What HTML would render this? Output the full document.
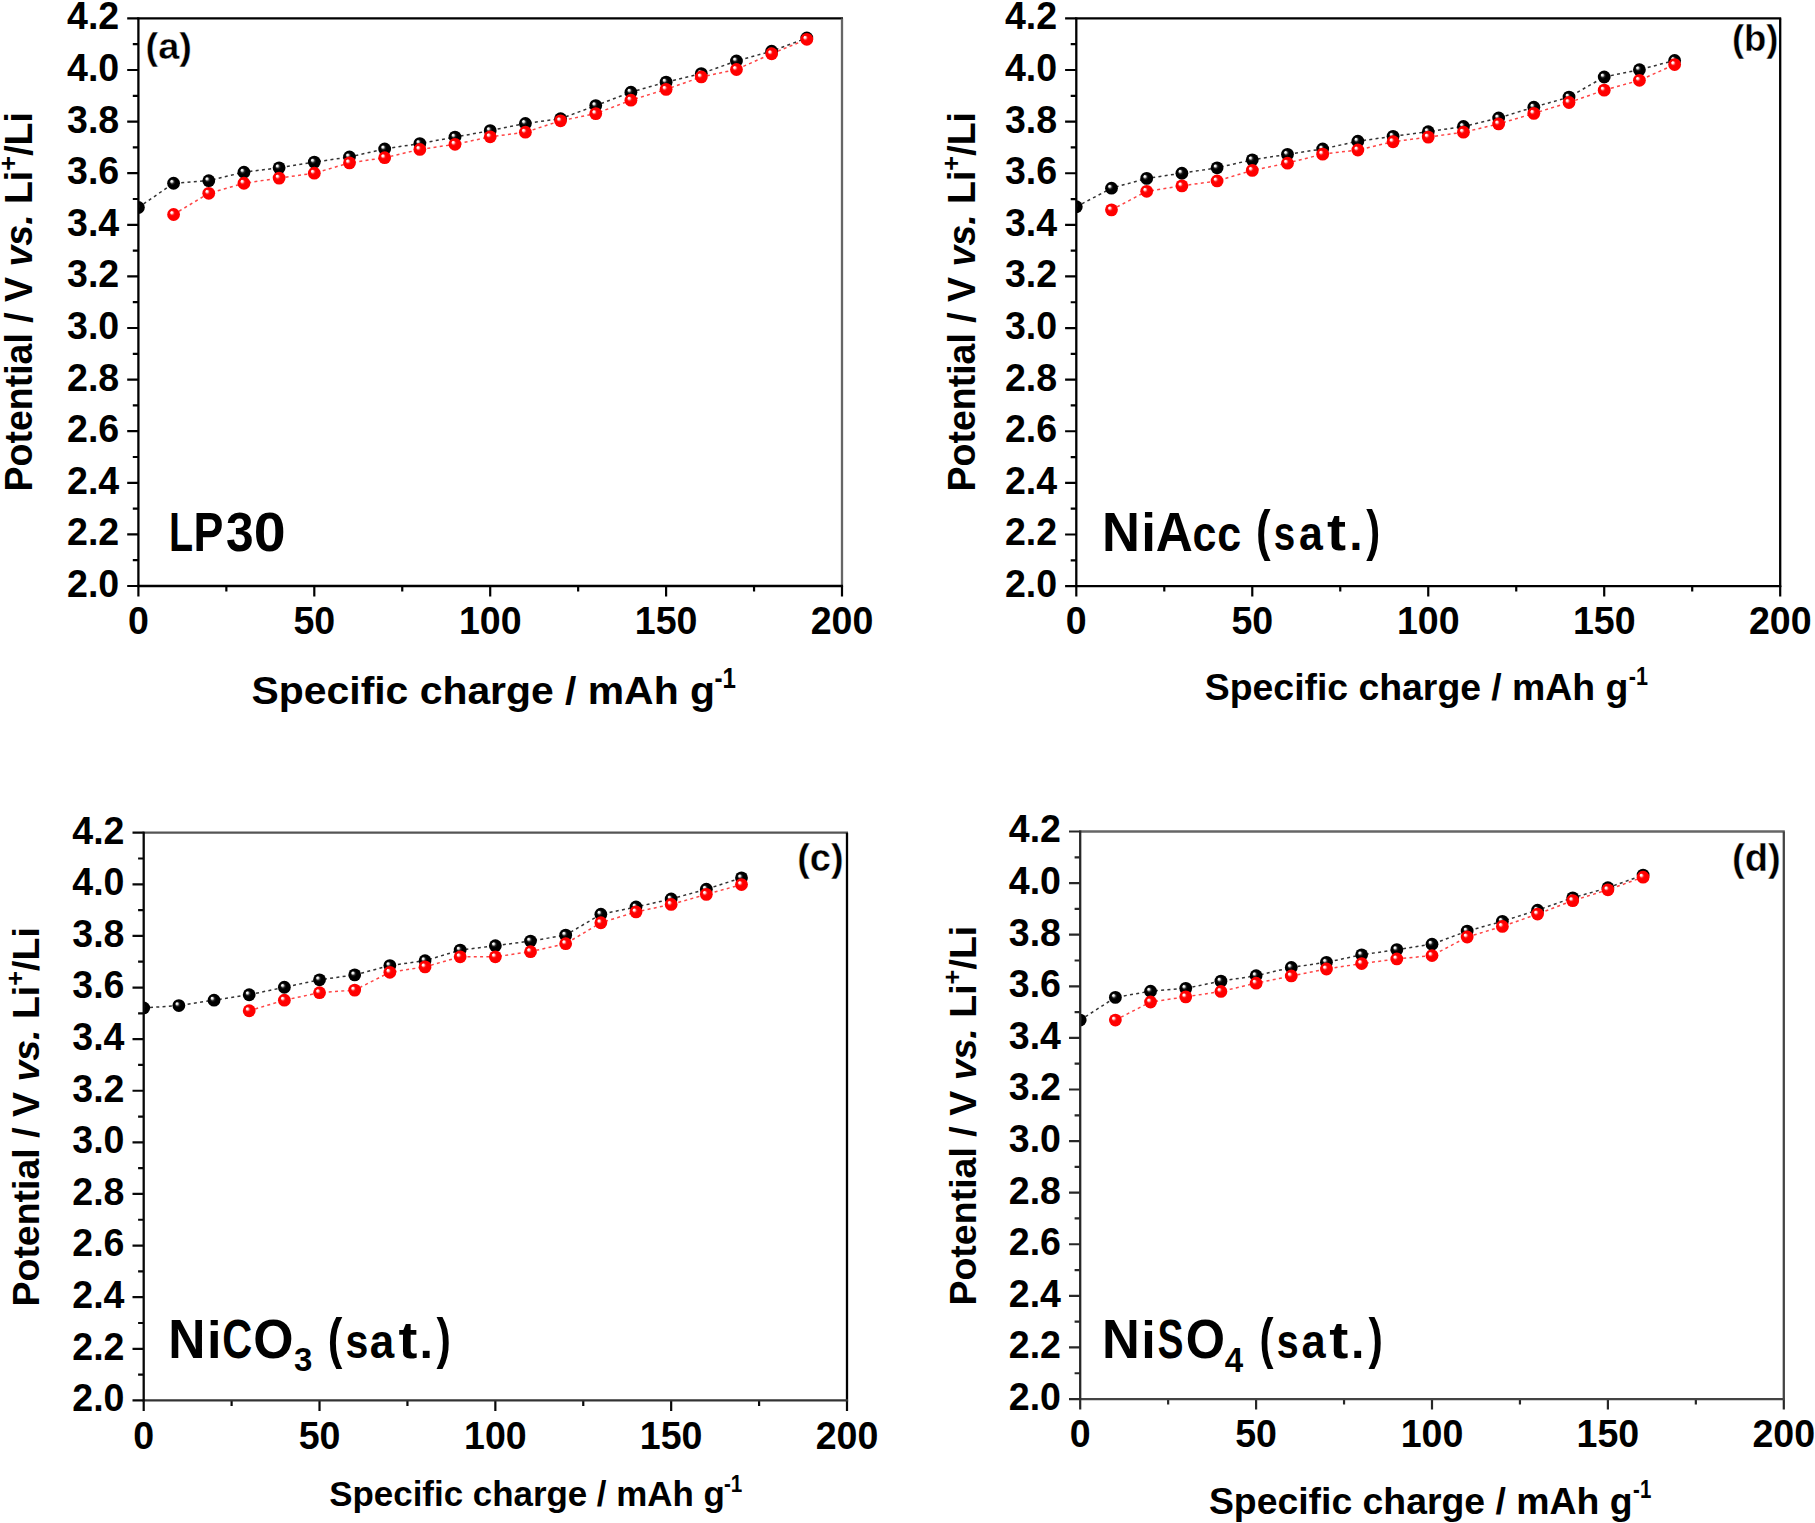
<!DOCTYPE html>
<html><head><meta charset="utf-8"><title>Potential vs specific charge</title>
<style>html,body{margin:0;padding:0;background:#fff;overflow:hidden}svg{display:block}text{font-family:"Liberation Sans",Arial,sans-serif;font-weight:bold;fill:#000}</style>
</head><body>
<svg width="1815" height="1523" viewBox="0 0 1815 1523">
<rect width="1815" height="1523" fill="#fff"/>
<defs>
<radialGradient id="gk" cx="0.5" cy="0.5" r="0.5" fx="0.32" fy="0.32"><stop offset="0" stop-color="#fff"/><stop offset="0.14" stop-color="#eee"/><stop offset="0.34" stop-color="#222"/><stop offset="0.5" stop-color="#000"/><stop offset="1" stop-color="#000"/></radialGradient>
<radialGradient id="gr" cx="0.5" cy="0.5" r="0.5" fx="0.32" fy="0.32"><stop offset="0" stop-color="#fff"/><stop offset="0.14" stop-color="#fee"/><stop offset="0.36" stop-color="#ff1010"/><stop offset="0.5" stop-color="#f00"/><stop offset="1" stop-color="#f00"/></radialGradient>
<clipPath id="clipa"><rect x="138.4" y="8.4" width="713.6" height="577.6"/></clipPath>
<clipPath id="clipb"><rect x="1076.3" y="8.4" width="713.9" height="577.7"/></clipPath>
<clipPath id="clipc"><rect x="143.7" y="822.7" width="713.3" height="577.7"/></clipPath>
<clipPath id="clipd"><rect x="1080.2" y="821.5" width="713.6" height="577.55"/></clipPath>
</defs>
<g id="panel-a">
<g clip-path="url(#clipa)">
<polyline fill="none" stroke="#333" stroke-width="1.5" stroke-dasharray="3 3.3" points="138.4,207.51 173.58,183.26 208.76,180.68 243.94,172.17 279.12,167.78 314.3,162.11 349.48,156.95 384.66,148.95 419.84,143.53 455.02,137.08 490.2,130.63 525.38,123.41 560.56,118.76 595.74,105.6 630.92,92.19 666.1,82.13 701.28,73.61 736.46,60.97 771.64,51.17 806.82,38.01"/>
<circle cx="138.4" cy="207.51" r="6.4" fill="url(#gk)"/>
<circle cx="173.58" cy="183.26" r="6.4" fill="url(#gk)"/>
<circle cx="208.76" cy="180.68" r="6.4" fill="url(#gk)"/>
<circle cx="243.94" cy="172.17" r="6.4" fill="url(#gk)"/>
<circle cx="279.12" cy="167.78" r="6.4" fill="url(#gk)"/>
<circle cx="314.3" cy="162.11" r="6.4" fill="url(#gk)"/>
<circle cx="349.48" cy="156.95" r="6.4" fill="url(#gk)"/>
<circle cx="384.66" cy="148.95" r="6.4" fill="url(#gk)"/>
<circle cx="419.84" cy="143.53" r="6.4" fill="url(#gk)"/>
<circle cx="455.02" cy="137.08" r="6.4" fill="url(#gk)"/>
<circle cx="490.2" cy="130.63" r="6.4" fill="url(#gk)"/>
<circle cx="525.38" cy="123.41" r="6.4" fill="url(#gk)"/>
<circle cx="560.56" cy="118.76" r="6.4" fill="url(#gk)"/>
<circle cx="595.74" cy="105.6" r="6.4" fill="url(#gk)"/>
<circle cx="630.92" cy="92.19" r="6.4" fill="url(#gk)"/>
<circle cx="666.1" cy="82.13" r="6.4" fill="url(#gk)"/>
<circle cx="701.28" cy="73.61" r="6.4" fill="url(#gk)"/>
<circle cx="736.46" cy="60.97" r="6.4" fill="url(#gk)"/>
<circle cx="771.64" cy="51.17" r="6.4" fill="url(#gk)"/>
<circle cx="806.82" cy="38.01" r="6.4" fill="url(#gk)"/>
<polyline fill="none" stroke="#f44" stroke-width="1.5" stroke-dasharray="3 3.3" points="173.58,214.48 208.76,193.32 243.94,183.26 279.12,178.1 314.3,173.2 349.48,162.88 384.66,157.72 419.84,149.46 455.02,144.3 490.2,136.82 525.38,132.18 560.56,120.83 595.74,113.6 630.92,100.19 666.1,89.35 701.28,76.97 736.46,69.48 771.64,53.75 806.82,39.3"/>
<circle cx="173.58" cy="214.48" r="6.4" fill="url(#gr)"/>
<circle cx="208.76" cy="193.32" r="6.4" fill="url(#gr)"/>
<circle cx="243.94" cy="183.26" r="6.4" fill="url(#gr)"/>
<circle cx="279.12" cy="178.1" r="6.4" fill="url(#gr)"/>
<circle cx="314.3" cy="173.2" r="6.4" fill="url(#gr)"/>
<circle cx="349.48" cy="162.88" r="6.4" fill="url(#gr)"/>
<circle cx="384.66" cy="157.72" r="6.4" fill="url(#gr)"/>
<circle cx="419.84" cy="149.46" r="6.4" fill="url(#gr)"/>
<circle cx="455.02" cy="144.3" r="6.4" fill="url(#gr)"/>
<circle cx="490.2" cy="136.82" r="6.4" fill="url(#gr)"/>
<circle cx="525.38" cy="132.18" r="6.4" fill="url(#gr)"/>
<circle cx="560.56" cy="120.83" r="6.4" fill="url(#gr)"/>
<circle cx="595.74" cy="113.6" r="6.4" fill="url(#gr)"/>
<circle cx="630.92" cy="100.19" r="6.4" fill="url(#gr)"/>
<circle cx="666.1" cy="89.35" r="6.4" fill="url(#gr)"/>
<circle cx="701.28" cy="76.97" r="6.4" fill="url(#gr)"/>
<circle cx="736.46" cy="69.48" r="6.4" fill="url(#gr)"/>
<circle cx="771.64" cy="53.75" r="6.4" fill="url(#gr)"/>
<circle cx="806.82" cy="39.3" r="6.4" fill="url(#gr)"/>
</g>
<path d="M127.2 586H138.4M132.8 560.2H138.4M127.2 534.4H138.4M132.8 508.6H138.4M127.2 482.8H138.4M132.8 457H138.4M127.2 431.2H138.4M132.8 405.4H138.4M127.2 379.6H138.4M132.8 353.8H138.4M127.2 328H138.4M132.8 302.2H138.4M127.2 276.4H138.4M132.8 250.6H138.4M127.2 224.8H138.4M132.8 199H138.4M127.2 173.2H138.4M132.8 147.4H138.4M127.2 121.6H138.4M132.8 95.8H138.4M127.2 70H138.4M132.8 44.2H138.4M127.2 18.4H138.4M138.4 586V596.5M226.35 586V591.5M314.3 586V596.5M402.25 586V591.5M490.2 586V596.5M578.15 586V591.5M666.1 586V596.5M754.05 586V591.5M842 586V596.5" stroke="#000" stroke-width="2.2" fill="none"/>
<path d="M137.4 18.4H843" stroke="#000" stroke-width="2.3" fill="none"/>
<path d="M842 18.4V587" stroke="#666" stroke-width="2.3" fill="none"/>
<path d="M137.4 586H843" stroke="#000" stroke-width="2.3" fill="none"/>
<path d="M138.4 17.4V587" stroke="#000" stroke-width="2.3" fill="none"/>
<text transform="translate(119.2 596.9) scale(0.965 1)" font-size="38.9" text-anchor="end">2.0</text>
<text transform="translate(119.2 545.3) scale(0.965 1)" font-size="38.9" text-anchor="end">2.2</text>
<text transform="translate(119.2 493.7) scale(0.965 1)" font-size="38.9" text-anchor="end">2.4</text>
<text transform="translate(119.2 442.1) scale(0.965 1)" font-size="38.9" text-anchor="end">2.6</text>
<text transform="translate(119.2 390.5) scale(0.965 1)" font-size="38.9" text-anchor="end">2.8</text>
<text transform="translate(119.2 338.9) scale(0.965 1)" font-size="38.9" text-anchor="end">3.0</text>
<text transform="translate(119.2 287.3) scale(0.965 1)" font-size="38.9" text-anchor="end">3.2</text>
<text transform="translate(119.2 235.7) scale(0.965 1)" font-size="38.9" text-anchor="end">3.4</text>
<text transform="translate(119.2 184.1) scale(0.965 1)" font-size="38.9" text-anchor="end">3.6</text>
<text transform="translate(119.2 132.5) scale(0.965 1)" font-size="38.9" text-anchor="end">3.8</text>
<text transform="translate(119.2 80.9) scale(0.965 1)" font-size="38.9" text-anchor="end">4.0</text>
<text transform="translate(119.2 29.3) scale(0.965 1)" font-size="38.9" text-anchor="end">4.2</text>
<text transform="translate(138.4 634.2) scale(0.965 1)" font-size="38.9" text-anchor="middle">0</text>
<text transform="translate(314.3 634.2) scale(0.965 1)" font-size="38.9" text-anchor="middle">50</text>
<text transform="translate(490.2 634.2) scale(0.965 1)" font-size="38.9" text-anchor="middle">100</text>
<text transform="translate(666.1 634.2) scale(0.965 1)" font-size="38.9" text-anchor="middle">150</text>
<text transform="translate(842 634.2) scale(0.965 1)" font-size="38.9" text-anchor="middle">200</text>
</g>
<g id="panel-b">
<g clip-path="url(#clipb)">
<polyline fill="none" stroke="#333" stroke-width="1.5" stroke-dasharray="3 3.3" points="1076.3,206.77 1111.49,188.19 1146.69,178.39 1181.88,173.23 1217.08,167.81 1252.28,159.81 1287.47,154.39 1322.66,148.97 1357.86,141.23 1393.06,136.33 1428.25,131.68 1463.45,126.52 1498.64,118.01 1533.84,107.17 1569.03,97.1 1604.22,76.98 1639.42,69.75 1674.62,60.46"/>
<circle cx="1076.3" cy="206.77" r="6.4" fill="url(#gk)"/>
<circle cx="1111.49" cy="188.19" r="6.4" fill="url(#gk)"/>
<circle cx="1146.69" cy="178.39" r="6.4" fill="url(#gk)"/>
<circle cx="1181.88" cy="173.23" r="6.4" fill="url(#gk)"/>
<circle cx="1217.08" cy="167.81" r="6.4" fill="url(#gk)"/>
<circle cx="1252.28" cy="159.81" r="6.4" fill="url(#gk)"/>
<circle cx="1287.47" cy="154.39" r="6.4" fill="url(#gk)"/>
<circle cx="1322.66" cy="148.97" r="6.4" fill="url(#gk)"/>
<circle cx="1357.86" cy="141.23" r="6.4" fill="url(#gk)"/>
<circle cx="1393.06" cy="136.33" r="6.4" fill="url(#gk)"/>
<circle cx="1428.25" cy="131.68" r="6.4" fill="url(#gk)"/>
<circle cx="1463.45" cy="126.52" r="6.4" fill="url(#gk)"/>
<circle cx="1498.64" cy="118.01" r="6.4" fill="url(#gk)"/>
<circle cx="1533.84" cy="107.17" r="6.4" fill="url(#gk)"/>
<circle cx="1569.03" cy="97.1" r="6.4" fill="url(#gk)"/>
<circle cx="1604.22" cy="76.98" r="6.4" fill="url(#gk)"/>
<circle cx="1639.42" cy="69.75" r="6.4" fill="url(#gk)"/>
<circle cx="1674.62" cy="60.46" r="6.4" fill="url(#gk)"/>
<polyline fill="none" stroke="#f44" stroke-width="1.5" stroke-dasharray="3 3.3" points="1111.49,209.87 1146.69,191.29 1181.88,185.87 1217.08,180.97 1252.28,170.39 1287.47,163.16 1322.66,154.13 1357.86,150 1393.06,141.75 1428.25,137.1 1463.45,132.2 1498.64,123.94 1533.84,113.36 1569.03,102.52 1604.22,90.14 1639.42,80.33 1674.62,64.59"/>
<circle cx="1111.49" cy="209.87" r="6.4" fill="url(#gr)"/>
<circle cx="1146.69" cy="191.29" r="6.4" fill="url(#gr)"/>
<circle cx="1181.88" cy="185.87" r="6.4" fill="url(#gr)"/>
<circle cx="1217.08" cy="180.97" r="6.4" fill="url(#gr)"/>
<circle cx="1252.28" cy="170.39" r="6.4" fill="url(#gr)"/>
<circle cx="1287.47" cy="163.16" r="6.4" fill="url(#gr)"/>
<circle cx="1322.66" cy="154.13" r="6.4" fill="url(#gr)"/>
<circle cx="1357.86" cy="150" r="6.4" fill="url(#gr)"/>
<circle cx="1393.06" cy="141.75" r="6.4" fill="url(#gr)"/>
<circle cx="1428.25" cy="137.1" r="6.4" fill="url(#gr)"/>
<circle cx="1463.45" cy="132.2" r="6.4" fill="url(#gr)"/>
<circle cx="1498.64" cy="123.94" r="6.4" fill="url(#gr)"/>
<circle cx="1533.84" cy="113.36" r="6.4" fill="url(#gr)"/>
<circle cx="1569.03" cy="102.52" r="6.4" fill="url(#gr)"/>
<circle cx="1604.22" cy="90.14" r="6.4" fill="url(#gr)"/>
<circle cx="1639.42" cy="80.33" r="6.4" fill="url(#gr)"/>
<circle cx="1674.62" cy="64.59" r="6.4" fill="url(#gr)"/>
</g>
<path d="M1065.1 586.1H1076.3M1070.7 560.3H1076.3M1065.1 534.49H1076.3M1070.7 508.69H1076.3M1065.1 482.88H1076.3M1070.7 457.08H1076.3M1065.1 431.27H1076.3M1070.7 405.47H1076.3M1065.1 379.66H1076.3M1070.7 353.86H1076.3M1065.1 328.05H1076.3M1070.7 302.25H1076.3M1065.1 276.45H1076.3M1070.7 250.64H1076.3M1065.1 224.84H1076.3M1070.7 199.03H1076.3M1065.1 173.23H1076.3M1070.7 147.42H1076.3M1065.1 121.62H1076.3M1070.7 95.81H1076.3M1065.1 70.01H1076.3M1070.7 44.2H1076.3M1065.1 18.4H1076.3M1076.3 586.1V596.6M1164.29 586.1V591.6M1252.28 586.1V596.6M1340.26 586.1V591.6M1428.25 586.1V596.6M1516.24 586.1V591.6M1604.22 586.1V596.6M1692.21 586.1V591.6M1780.2 586.1V596.6" stroke="#000" stroke-width="2.2" fill="none"/>
<path d="M1075.3 18.4H1781.2" stroke="#000" stroke-width="2.3" fill="none"/>
<path d="M1780.2 18.4V587.1" stroke="#000" stroke-width="2.3" fill="none"/>
<path d="M1075.3 586.1H1781.2" stroke="#000" stroke-width="2.3" fill="none"/>
<path d="M1076.3 17.4V587.1" stroke="#000" stroke-width="2.3" fill="none"/>
<text transform="translate(1057.1 597) scale(0.965 1)" font-size="38.9" text-anchor="end">2.0</text>
<text transform="translate(1057.1 545.39) scale(0.965 1)" font-size="38.9" text-anchor="end">2.2</text>
<text transform="translate(1057.1 493.78) scale(0.965 1)" font-size="38.9" text-anchor="end">2.4</text>
<text transform="translate(1057.1 442.17) scale(0.965 1)" font-size="38.9" text-anchor="end">2.6</text>
<text transform="translate(1057.1 390.56) scale(0.965 1)" font-size="38.9" text-anchor="end">2.8</text>
<text transform="translate(1057.1 338.95) scale(0.965 1)" font-size="38.9" text-anchor="end">3.0</text>
<text transform="translate(1057.1 287.35) scale(0.965 1)" font-size="38.9" text-anchor="end">3.2</text>
<text transform="translate(1057.1 235.74) scale(0.965 1)" font-size="38.9" text-anchor="end">3.4</text>
<text transform="translate(1057.1 184.13) scale(0.965 1)" font-size="38.9" text-anchor="end">3.6</text>
<text transform="translate(1057.1 132.52) scale(0.965 1)" font-size="38.9" text-anchor="end">3.8</text>
<text transform="translate(1057.1 80.91) scale(0.965 1)" font-size="38.9" text-anchor="end">4.0</text>
<text transform="translate(1057.1 29.3) scale(0.965 1)" font-size="38.9" text-anchor="end">4.2</text>
<text transform="translate(1076.3 634.3) scale(0.965 1)" font-size="38.9" text-anchor="middle">0</text>
<text transform="translate(1252.28 634.3) scale(0.965 1)" font-size="38.9" text-anchor="middle">50</text>
<text transform="translate(1428.25 634.3) scale(0.965 1)" font-size="38.9" text-anchor="middle">100</text>
<text transform="translate(1604.22 634.3) scale(0.965 1)" font-size="38.9" text-anchor="middle">150</text>
<text transform="translate(1780.2 634.3) scale(0.965 1)" font-size="38.9" text-anchor="middle">200</text>
</g>
<g id="panel-c">
<g clip-path="url(#clipc)">
<polyline fill="none" stroke="#333" stroke-width="1.5" stroke-dasharray="3 3.3" points="143.7,1007.91 178.86,1005.59 214.03,1000.17 249.19,994.75 284.36,987.27 319.52,979.79 354.69,974.88 389.86,965.59 425.02,960.69 460.18,950.11 495.35,945.72 530.51,941.08 565.68,935.14 600.85,914.24 636.01,907.02 671.17,899.02 706.34,889.21 741.5,877.86"/>
<circle cx="143.7" cy="1007.91" r="6.4" fill="url(#gk)"/>
<circle cx="178.86" cy="1005.59" r="6.4" fill="url(#gk)"/>
<circle cx="214.03" cy="1000.17" r="6.4" fill="url(#gk)"/>
<circle cx="249.19" cy="994.75" r="6.4" fill="url(#gk)"/>
<circle cx="284.36" cy="987.27" r="6.4" fill="url(#gk)"/>
<circle cx="319.52" cy="979.79" r="6.4" fill="url(#gk)"/>
<circle cx="354.69" cy="974.88" r="6.4" fill="url(#gk)"/>
<circle cx="389.86" cy="965.59" r="6.4" fill="url(#gk)"/>
<circle cx="425.02" cy="960.69" r="6.4" fill="url(#gk)"/>
<circle cx="460.18" cy="950.11" r="6.4" fill="url(#gk)"/>
<circle cx="495.35" cy="945.72" r="6.4" fill="url(#gk)"/>
<circle cx="530.51" cy="941.08" r="6.4" fill="url(#gk)"/>
<circle cx="565.68" cy="935.14" r="6.4" fill="url(#gk)"/>
<circle cx="600.85" cy="914.24" r="6.4" fill="url(#gk)"/>
<circle cx="636.01" cy="907.02" r="6.4" fill="url(#gk)"/>
<circle cx="671.17" cy="899.02" r="6.4" fill="url(#gk)"/>
<circle cx="706.34" cy="889.21" r="6.4" fill="url(#gk)"/>
<circle cx="741.5" cy="877.86" r="6.4" fill="url(#gk)"/>
<polyline fill="none" stroke="#f44" stroke-width="1.5" stroke-dasharray="3 3.3" points="249.19,1010.75 284.36,1000.17 319.52,992.69 354.69,990.11 389.86,972.3 425.02,966.88 460.18,956.82 495.35,956.82 530.51,951.66 565.68,943.66 600.85,922.76 636.01,911.92 671.17,904.44 706.34,894.37 741.5,884.57"/>
<circle cx="249.19" cy="1010.75" r="6.4" fill="url(#gr)"/>
<circle cx="284.36" cy="1000.17" r="6.4" fill="url(#gr)"/>
<circle cx="319.52" cy="992.69" r="6.4" fill="url(#gr)"/>
<circle cx="354.69" cy="990.11" r="6.4" fill="url(#gr)"/>
<circle cx="389.86" cy="972.3" r="6.4" fill="url(#gr)"/>
<circle cx="425.02" cy="966.88" r="6.4" fill="url(#gr)"/>
<circle cx="460.18" cy="956.82" r="6.4" fill="url(#gr)"/>
<circle cx="495.35" cy="956.82" r="6.4" fill="url(#gr)"/>
<circle cx="530.51" cy="951.66" r="6.4" fill="url(#gr)"/>
<circle cx="565.68" cy="943.66" r="6.4" fill="url(#gr)"/>
<circle cx="600.85" cy="922.76" r="6.4" fill="url(#gr)"/>
<circle cx="636.01" cy="911.92" r="6.4" fill="url(#gr)"/>
<circle cx="671.17" cy="904.44" r="6.4" fill="url(#gr)"/>
<circle cx="706.34" cy="894.37" r="6.4" fill="url(#gr)"/>
<circle cx="741.5" cy="884.57" r="6.4" fill="url(#gr)"/>
</g>
<path d="M132.5 1400.4H143.7M138.1 1374.6H143.7M132.5 1348.79H143.7M138.1 1322.99H143.7M132.5 1297.18H143.7M138.1 1271.38H143.7M132.5 1245.57H143.7M138.1 1219.77H143.7M132.5 1193.96H143.7M138.1 1168.16H143.7M132.5 1142.35H143.7M138.1 1116.55H143.7M132.5 1090.75H143.7M138.1 1064.94H143.7M132.5 1039.14H143.7M138.1 1013.33H143.7M132.5 987.53H143.7M138.1 961.72H143.7M132.5 935.92H143.7M138.1 910.11H143.7M132.5 884.31H143.7M138.1 858.5H143.7M132.5 832.7H143.7M143.7 1400.4V1410.9M231.61 1400.4V1405.9M319.52 1400.4V1410.9M407.44 1400.4V1405.9M495.35 1400.4V1410.9M583.26 1400.4V1405.9M671.17 1400.4V1410.9M759.09 1400.4V1405.9M847 1400.4V1410.9" stroke="#080808" stroke-width="2.2" fill="none"/>
<path d="M142.7 832.7H848" stroke="#555" stroke-width="2.3" fill="none"/>
<path d="M847 832.7V1401.4" stroke="#000" stroke-width="2.3" fill="none"/>
<path d="M142.7 1400.4H848" stroke="#333" stroke-width="2.3" fill="none"/>
<path d="M143.7 831.7V1401.4" stroke="#080808" stroke-width="2.3" fill="none"/>
<text transform="translate(124.5 1411.3) scale(0.965 1)" font-size="38.9" text-anchor="end">2.0</text>
<text transform="translate(124.5 1359.69) scale(0.965 1)" font-size="38.9" text-anchor="end">2.2</text>
<text transform="translate(124.5 1308.08) scale(0.965 1)" font-size="38.9" text-anchor="end">2.4</text>
<text transform="translate(124.5 1256.47) scale(0.965 1)" font-size="38.9" text-anchor="end">2.6</text>
<text transform="translate(124.5 1204.86) scale(0.965 1)" font-size="38.9" text-anchor="end">2.8</text>
<text transform="translate(124.5 1153.25) scale(0.965 1)" font-size="38.9" text-anchor="end">3.0</text>
<text transform="translate(124.5 1101.65) scale(0.965 1)" font-size="38.9" text-anchor="end">3.2</text>
<text transform="translate(124.5 1050.04) scale(0.965 1)" font-size="38.9" text-anchor="end">3.4</text>
<text transform="translate(124.5 998.43) scale(0.965 1)" font-size="38.9" text-anchor="end">3.6</text>
<text transform="translate(124.5 946.82) scale(0.965 1)" font-size="38.9" text-anchor="end">3.8</text>
<text transform="translate(124.5 895.21) scale(0.965 1)" font-size="38.9" text-anchor="end">4.0</text>
<text transform="translate(124.5 843.6) scale(0.965 1)" font-size="38.9" text-anchor="end">4.2</text>
<text transform="translate(143.7 1448.6) scale(0.965 1)" font-size="38.9" text-anchor="middle">0</text>
<text transform="translate(319.52 1448.6) scale(0.965 1)" font-size="38.9" text-anchor="middle">50</text>
<text transform="translate(495.35 1448.6) scale(0.965 1)" font-size="38.9" text-anchor="middle">100</text>
<text transform="translate(671.17 1448.6) scale(0.965 1)" font-size="38.9" text-anchor="middle">150</text>
<text transform="translate(847 1448.6) scale(0.965 1)" font-size="38.9" text-anchor="middle">200</text>
</g>
<g id="panel-d">
<g clip-path="url(#clipd)">
<polyline fill="none" stroke="#333" stroke-width="1.5" stroke-dasharray="3 3.3" points="1080.2,1020.08 1115.38,997.38 1150.56,991.19 1185.74,988.35 1220.92,981.13 1256.1,975.71 1291.28,967.45 1326.46,962.29 1361.64,954.81 1396.82,949.65 1432,944.24 1467.18,931.08 1502.36,921.28 1537.54,910.18 1572.72,897.8 1607.9,887.74 1643.08,875.1"/>
<circle cx="1080.2" cy="1020.08" r="6.4" fill="url(#gk)"/>
<circle cx="1115.38" cy="997.38" r="6.4" fill="url(#gk)"/>
<circle cx="1150.56" cy="991.19" r="6.4" fill="url(#gk)"/>
<circle cx="1185.74" cy="988.35" r="6.4" fill="url(#gk)"/>
<circle cx="1220.92" cy="981.13" r="6.4" fill="url(#gk)"/>
<circle cx="1256.1" cy="975.71" r="6.4" fill="url(#gk)"/>
<circle cx="1291.28" cy="967.45" r="6.4" fill="url(#gk)"/>
<circle cx="1326.46" cy="962.29" r="6.4" fill="url(#gk)"/>
<circle cx="1361.64" cy="954.81" r="6.4" fill="url(#gk)"/>
<circle cx="1396.82" cy="949.65" r="6.4" fill="url(#gk)"/>
<circle cx="1432" cy="944.24" r="6.4" fill="url(#gk)"/>
<circle cx="1467.18" cy="931.08" r="6.4" fill="url(#gk)"/>
<circle cx="1502.36" cy="921.28" r="6.4" fill="url(#gk)"/>
<circle cx="1537.54" cy="910.18" r="6.4" fill="url(#gk)"/>
<circle cx="1572.72" cy="897.8" r="6.4" fill="url(#gk)"/>
<circle cx="1607.9" cy="887.74" r="6.4" fill="url(#gk)"/>
<circle cx="1643.08" cy="875.1" r="6.4" fill="url(#gk)"/>
<polyline fill="none" stroke="#f44" stroke-width="1.5" stroke-dasharray="3 3.3" points="1115.38,1020.08 1150.56,1002.02 1185.74,996.86 1220.92,991.45 1256.1,983.19 1291.28,975.97 1326.46,969 1361.64,963.58 1396.82,958.94 1432,955.59 1467.18,937.01 1502.36,926.44 1537.54,914.05 1572.72,900.64 1607.9,889.8 1643.08,877.16"/>
<circle cx="1115.38" cy="1020.08" r="6.4" fill="url(#gr)"/>
<circle cx="1150.56" cy="1002.02" r="6.4" fill="url(#gr)"/>
<circle cx="1185.74" cy="996.86" r="6.4" fill="url(#gr)"/>
<circle cx="1220.92" cy="991.45" r="6.4" fill="url(#gr)"/>
<circle cx="1256.1" cy="983.19" r="6.4" fill="url(#gr)"/>
<circle cx="1291.28" cy="975.97" r="6.4" fill="url(#gr)"/>
<circle cx="1326.46" cy="969" r="6.4" fill="url(#gr)"/>
<circle cx="1361.64" cy="963.58" r="6.4" fill="url(#gr)"/>
<circle cx="1396.82" cy="958.94" r="6.4" fill="url(#gr)"/>
<circle cx="1432" cy="955.59" r="6.4" fill="url(#gr)"/>
<circle cx="1467.18" cy="937.01" r="6.4" fill="url(#gr)"/>
<circle cx="1502.36" cy="926.44" r="6.4" fill="url(#gr)"/>
<circle cx="1537.54" cy="914.05" r="6.4" fill="url(#gr)"/>
<circle cx="1572.72" cy="900.64" r="6.4" fill="url(#gr)"/>
<circle cx="1607.9" cy="889.8" r="6.4" fill="url(#gr)"/>
<circle cx="1643.08" cy="877.16" r="6.4" fill="url(#gr)"/>
</g>
<path d="M1069 1399.05H1080.2M1074.6 1373.25H1080.2M1069 1347.45H1080.2M1074.6 1321.66H1080.2M1069 1295.86H1080.2M1074.6 1270.06H1080.2M1069 1244.26H1080.2M1074.6 1218.47H1080.2M1069 1192.67H1080.2M1074.6 1166.87H1080.2M1069 1141.07H1080.2M1074.6 1115.28H1080.2M1069 1089.48H1080.2M1074.6 1063.68H1080.2M1069 1037.88H1080.2M1074.6 1012.08H1080.2M1069 986.29H1080.2M1074.6 960.49H1080.2M1069 934.69H1080.2M1074.6 908.89H1080.2M1069 883.1H1080.2M1074.6 857.3H1080.2M1069 831.5H1080.2M1080.2 1399.05V1409.55M1168.15 1399.05V1404.55M1256.1 1399.05V1409.55M1344.05 1399.05V1404.55M1432 1399.05V1409.55M1519.95 1399.05V1404.55M1607.9 1399.05V1409.55M1695.85 1399.05V1404.55M1783.8 1399.05V1409.55" stroke="#282828" stroke-width="2.2" fill="none"/>
<path d="M1079.2 831.5H1784.8" stroke="#666" stroke-width="2.3" fill="none"/>
<path d="M1783.8 831.5V1400.05" stroke="#444" stroke-width="2.3" fill="none"/>
<path d="M1079.2 1399.05H1784.8" stroke="#444" stroke-width="2.3" fill="none"/>
<path d="M1080.2 830.5V1400.05" stroke="#282828" stroke-width="2.3" fill="none"/>
<text transform="translate(1061 1409.95) scale(0.965 1)" font-size="38.9" text-anchor="end">2.0</text>
<text transform="translate(1061 1358.35) scale(0.965 1)" font-size="38.9" text-anchor="end">2.2</text>
<text transform="translate(1061 1306.76) scale(0.965 1)" font-size="38.9" text-anchor="end">2.4</text>
<text transform="translate(1061 1255.16) scale(0.965 1)" font-size="38.9" text-anchor="end">2.6</text>
<text transform="translate(1061 1203.57) scale(0.965 1)" font-size="38.9" text-anchor="end">2.8</text>
<text transform="translate(1061 1151.97) scale(0.965 1)" font-size="38.9" text-anchor="end">3.0</text>
<text transform="translate(1061 1100.38) scale(0.965 1)" font-size="38.9" text-anchor="end">3.2</text>
<text transform="translate(1061 1048.78) scale(0.965 1)" font-size="38.9" text-anchor="end">3.4</text>
<text transform="translate(1061 997.19) scale(0.965 1)" font-size="38.9" text-anchor="end">3.6</text>
<text transform="translate(1061 945.59) scale(0.965 1)" font-size="38.9" text-anchor="end">3.8</text>
<text transform="translate(1061 894) scale(0.965 1)" font-size="38.9" text-anchor="end">4.0</text>
<text transform="translate(1061 842.4) scale(0.965 1)" font-size="38.9" text-anchor="end">4.2</text>
<text transform="translate(1080.2 1447.25) scale(0.965 1)" font-size="38.9" text-anchor="middle">0</text>
<text transform="translate(1256.1 1447.25) scale(0.965 1)" font-size="38.9" text-anchor="middle">50</text>
<text transform="translate(1432 1447.25) scale(0.965 1)" font-size="38.9" text-anchor="middle">100</text>
<text transform="translate(1607.9 1447.25) scale(0.965 1)" font-size="38.9" text-anchor="middle">150</text>
<text transform="translate(1783.8 1447.25) scale(0.965 1)" font-size="38.9" text-anchor="middle">200</text>
</g>
<text transform="translate(32.2 491.46) rotate(-90) scale(0.9833 1)" font-size="38.13">Potential / V <tspan font-style="italic">vs.</tspan> Li<tspan font-size="25.9" dy="-15.3">+</tspan><tspan dy="15.3">/Li</tspan></text>
<text transform="translate(975 491.43) rotate(-90) scale(0.9725 1)" font-size="38.55">Potential / V <tspan font-style="italic">vs.</tspan> Li<tspan font-size="26.2" dy="-15.4">+</tspan><tspan dy="15.4">/Li</tspan></text>
<text transform="translate(39.4 1306.5) rotate(-90) scale(0.9980 1)" font-size="37.57">Potential / V <tspan font-style="italic">vs.</tspan> Li<tspan font-size="25.5" dy="-15.0">+</tspan><tspan dy="15.0">/Li</tspan></text>
<text transform="translate(976.3 1305.6) rotate(-90) scale(0.9991 1)" font-size="37.57">Potential / V <tspan font-style="italic">vs.</tspan> Li<tspan font-size="25.5" dy="-15.0">+</tspan><tspan dy="15.0">/Li</tspan></text>
<text transform="translate(251.6 703.8) scale(1.0382 1)" font-size="39.39">Specific charge / mAh g</text>
<text transform="translate(714.48 687.7) scale(0.8204 1)" font-size="29.4">-1</text>
<text transform="translate(1204.86 700) scale(1.0373 1)" font-size="36.03">Specific charge / mAh g</text>
<text transform="translate(1628.75 685.1) scale(0.8476 1)" font-size="25.42">-1</text>
<text transform="translate(329.23 1505.5) scale(1.0158 1)" font-size="34.36">Specific charge / mAh g</text>
<text transform="translate(723.96 1491.8) scale(0.8600 1)" font-size="24.02">-1</text>
<text transform="translate(1208.88 1513.8) scale(1.0178 1)" font-size="36.73">Specific charge / mAh g</text>
<text transform="translate(1633.12 1498.4) scale(0.7770 1)" font-size="26.26">-1</text>
<text transform="translate(145.52 59.24) scale(1.0167 1.0014)" font-size="37.3" stroke="#fff" stroke-width="0.4">(a)</text>
<text transform="translate(1731.89 51.47) scale(0.9795 1.0101)" font-size="37.3" stroke="#fff" stroke-width="0.4">(b)</text>
<text transform="translate(797.22 870.59) scale(1.0190 1.0331)" font-size="37.3" stroke="#fff" stroke-width="0.4">(c)</text>
<text transform="translate(1732.01 870.59) scale(1.0250 1.0331)" font-size="37.3" stroke="#fff" stroke-width="0.4">(d)</text>
<text><tspan x="169.04" y="550.5" font-size="55.36" textLength="24.08" lengthAdjust="spacingAndGlyphs">L</tspan><tspan x="193.39" y="550.5" font-size="55.36" textLength="29.85" lengthAdjust="spacingAndGlyphs">P</tspan><tspan x="225.98" y="550.5" font-size="55.36" textLength="27.62" lengthAdjust="spacingAndGlyphs">3</tspan><tspan x="253.85" y="550.5" font-size="55.36" textLength="31.92" lengthAdjust="spacingAndGlyphs">0</tspan></text>
<text><tspan x="1101.98" y="550.7" font-size="55.65" textLength="37.95" lengthAdjust="spacingAndGlyphs">N</tspan><tspan x="1141.27" y="550.7" font-size="52.97" textLength="14.72" lengthAdjust="spacingAndGlyphs">i</tspan><tspan x="1155.82" y="550.7" font-size="55.65" textLength="37.08" lengthAdjust="spacingAndGlyphs">A</tspan><tspan x="1192.59" y="550.7" font-size="49.64" textLength="23.95" lengthAdjust="spacingAndGlyphs">c</tspan><tspan x="1217.29" y="550.7" font-size="49.64" textLength="23.95" lengthAdjust="spacingAndGlyphs">c</tspan> <tspan x="1256.01" y="549.34" font-size="55.23" textLength="14.62" lengthAdjust="spacingAndGlyphs">(</tspan><tspan x="1273.65" y="550.4" font-size="48.00" textLength="21.44" lengthAdjust="spacingAndGlyphs">s</tspan><tspan x="1298.92" y="550.4" font-size="48.00" textLength="23.81" lengthAdjust="spacingAndGlyphs">a</tspan><tspan x="1326.95" y="550.4" font-size="51.00" textLength="19.03" lengthAdjust="spacingAndGlyphs">t</tspan><tspan x="1349.19" y="550.4" font-size="48.00" textLength="13.34" lengthAdjust="spacingAndGlyphs">.</tspan><tspan x="1366.2" y="549.34" font-size="55.23" textLength="13.91" lengthAdjust="spacingAndGlyphs">)</tspan></text>
<text><tspan x="168.25" y="1357.9" font-size="54.93" textLength="37.21" lengthAdjust="spacingAndGlyphs">N</tspan><tspan x="206.96" y="1357.9" font-size="52.28" textLength="14.53" lengthAdjust="spacingAndGlyphs">i</tspan><tspan x="222.34" y="1357.9" font-size="54.93" textLength="29.99" lengthAdjust="spacingAndGlyphs">C</tspan><tspan x="253.33" y="1357.9" font-size="54.93" textLength="40.26" lengthAdjust="spacingAndGlyphs">O</tspan><tspan x="293.96" y="1371.2" font-size="32.84" textLength="18.34" lengthAdjust="spacingAndGlyphs">3</tspan> <tspan x="327.81" y="1357.03" font-size="55.76" textLength="14.62" lengthAdjust="spacingAndGlyphs">(</tspan><tspan x="345.56" y="1357.5" font-size="48.55" textLength="22.83" lengthAdjust="spacingAndGlyphs">s</tspan><tspan x="369.69" y="1357.5" font-size="48.55" textLength="24.43" lengthAdjust="spacingAndGlyphs">a</tspan><tspan x="398.53" y="1357.5" font-size="51.15" textLength="18.87" lengthAdjust="spacingAndGlyphs">t</tspan><tspan x="419.51" y="1357.5" font-size="48.55" textLength="13.49" lengthAdjust="spacingAndGlyphs">.</tspan><tspan x="436.5" y="1357.03" font-size="55.76" textLength="14.38" lengthAdjust="spacingAndGlyphs">)</tspan></text>
<text><tspan x="1101.9" y="1357.9" font-size="54.93" textLength="37.82" lengthAdjust="spacingAndGlyphs">N</tspan><tspan x="1141.16" y="1357.9" font-size="52.28" textLength="14.53" lengthAdjust="spacingAndGlyphs">i</tspan><tspan x="1157.53" y="1357.9" font-size="54.93" textLength="26.01" lengthAdjust="spacingAndGlyphs">S</tspan><tspan x="1185.68" y="1357.9" font-size="54.93" textLength="39.26" lengthAdjust="spacingAndGlyphs">O</tspan><tspan x="1224.7" y="1371.5" font-size="35.22" textLength="18.42" lengthAdjust="spacingAndGlyphs">4</tspan> <tspan x="1259.49" y="1357.03" font-size="55.76" textLength="14.03" lengthAdjust="spacingAndGlyphs">(</tspan><tspan x="1276.82" y="1357.5" font-size="48.55" textLength="21.90" lengthAdjust="spacingAndGlyphs">s</tspan><tspan x="1301.61" y="1357.5" font-size="48.55" textLength="24.12" lengthAdjust="spacingAndGlyphs">a</tspan><tspan x="1329.38" y="1357.5" font-size="51.15" textLength="19.08" lengthAdjust="spacingAndGlyphs">t</tspan><tspan x="1351.01" y="1357.5" font-size="48.55" textLength="13.49" lengthAdjust="spacingAndGlyphs">.</tspan><tspan x="1368.4" y="1357.03" font-size="55.76" textLength="14.38" lengthAdjust="spacingAndGlyphs">)</tspan></text>
</svg></body></html>
